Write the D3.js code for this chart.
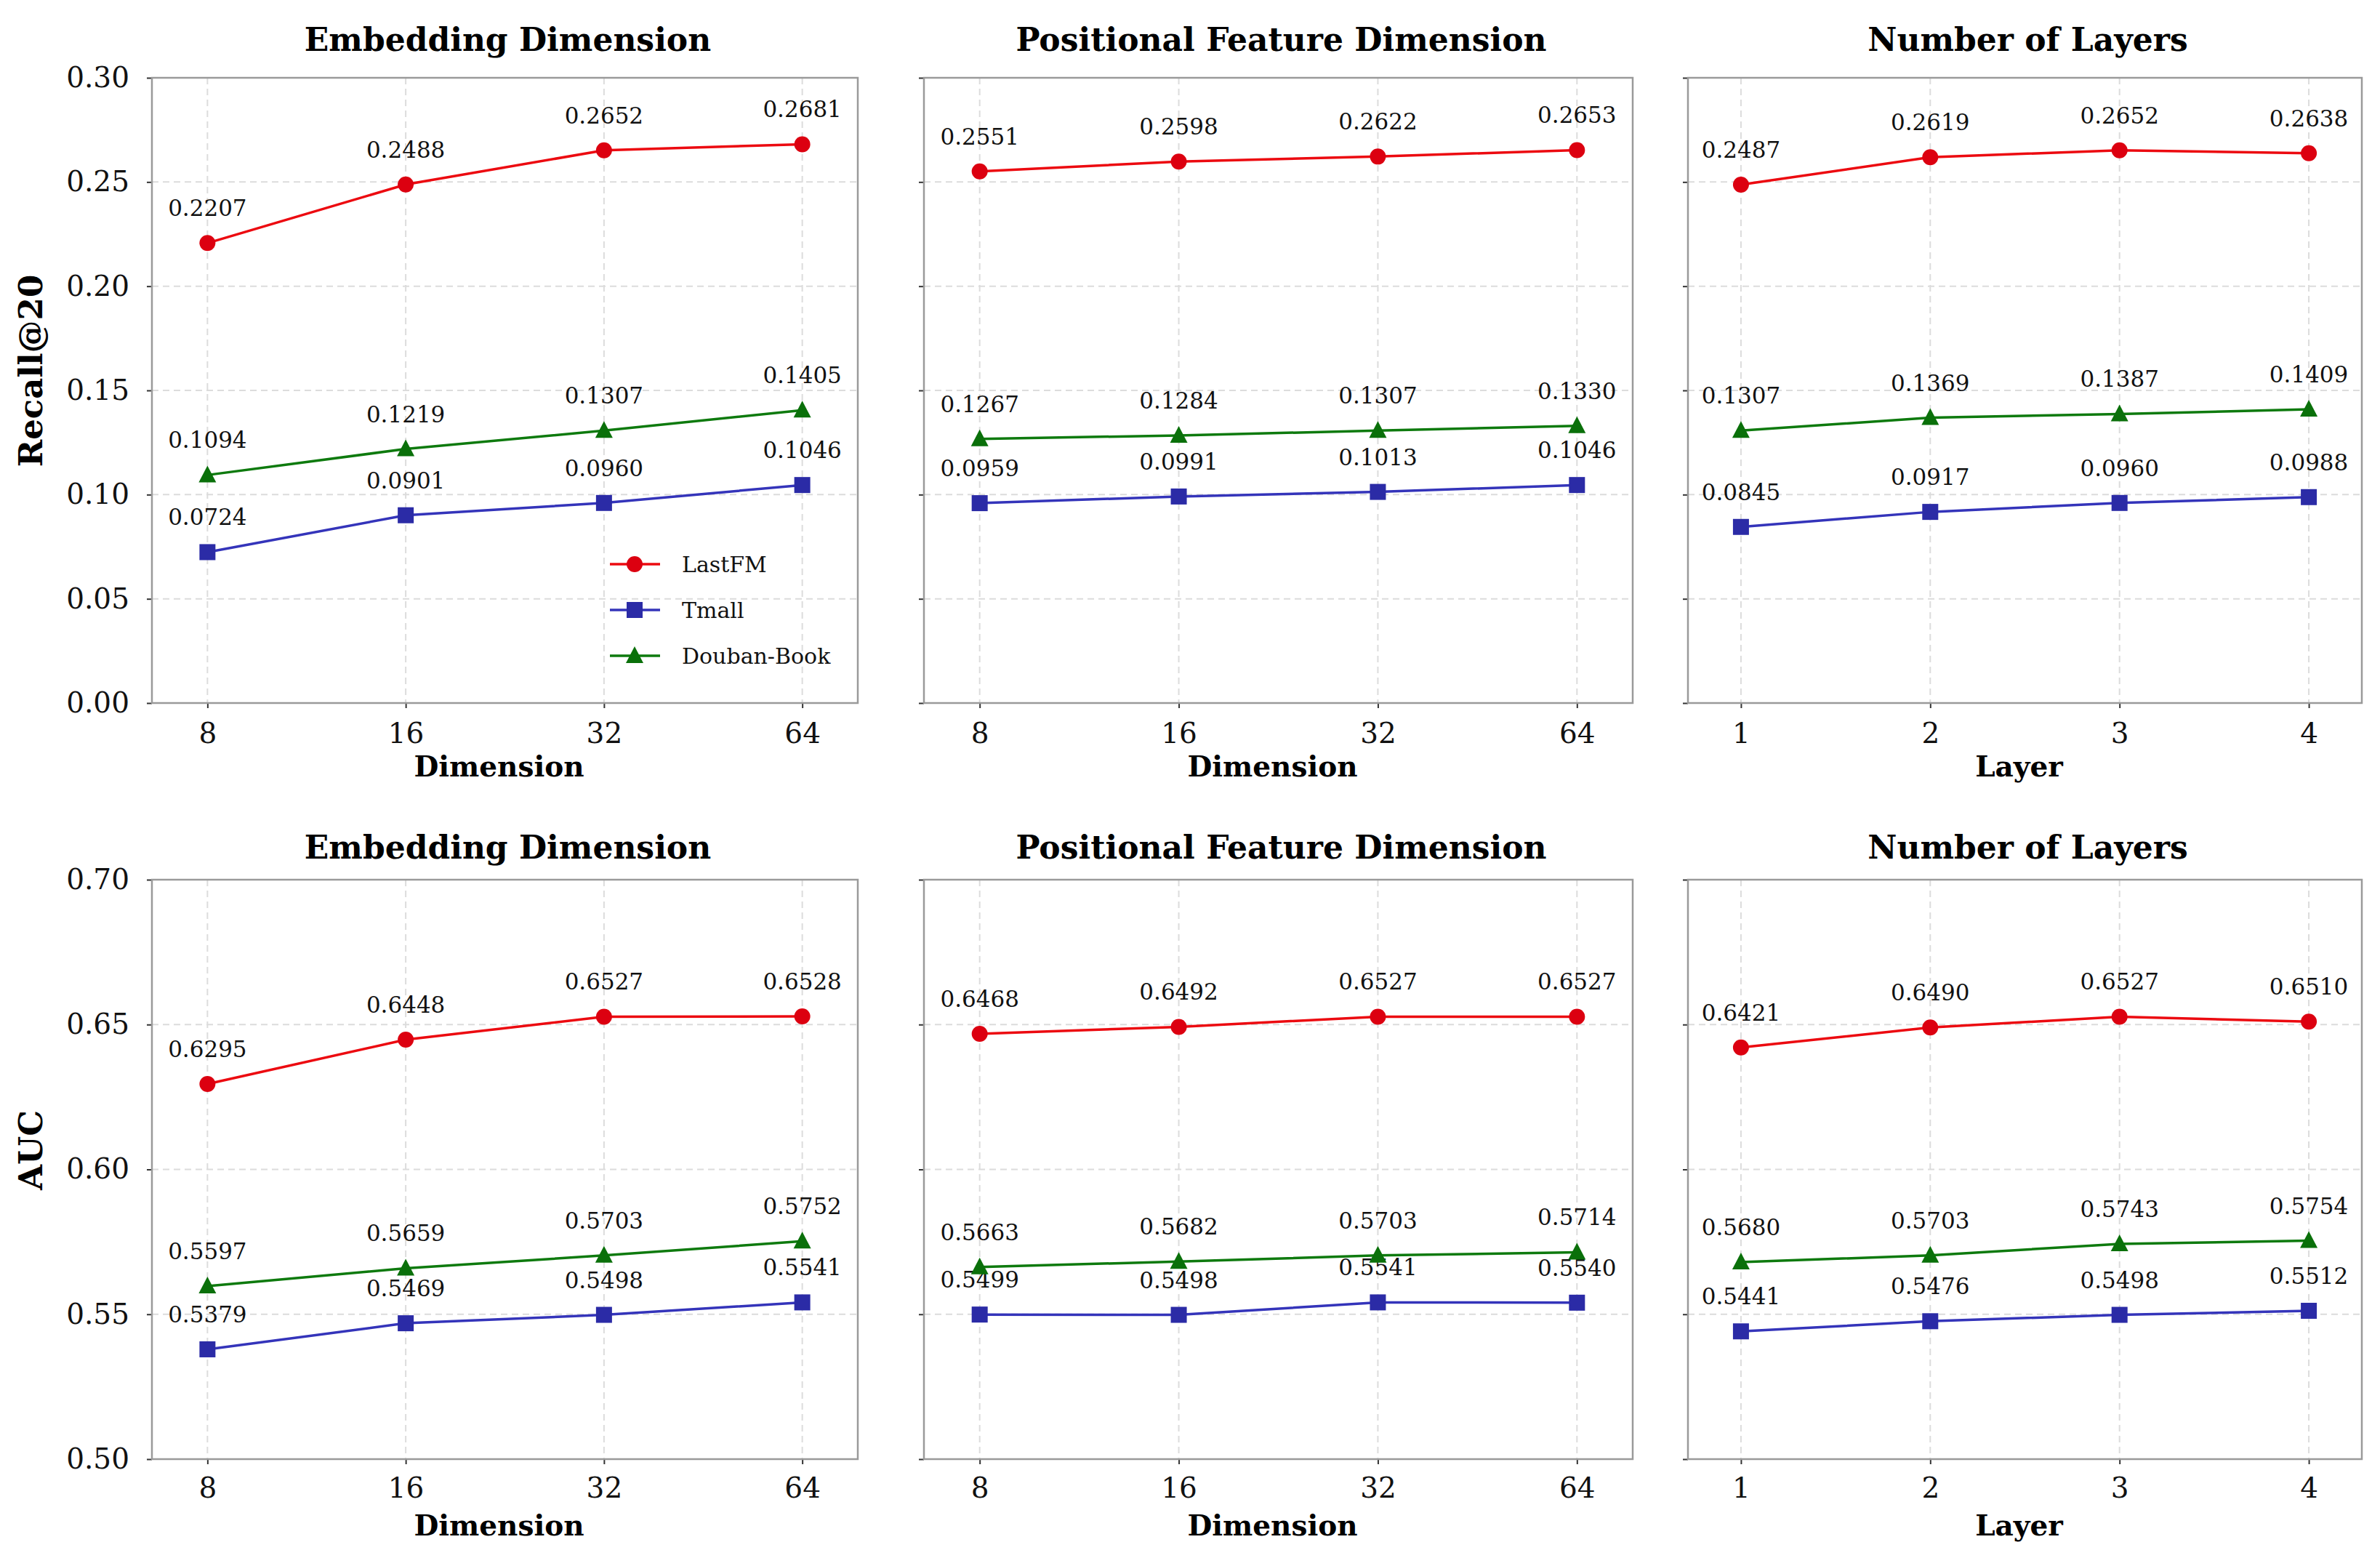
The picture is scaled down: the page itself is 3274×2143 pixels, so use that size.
<!DOCTYPE html>
<html>
<head>
<meta charset="utf-8">
<script src="https://cdn.jsdelivr.net/npm/d3@7"></script>
<style>
  body { margin: 0; background: #fff; }
  svg { display: block; font-family: "DejaVu Serif", serif; }
</style>
</head>
<body>
<svg id="chart" width="3274" height="2143"></svg>
<script>
// x categories
const dims = ["8", "16", "32", "64"];
const layers = ["1", "2", "3", "4"];

// Recall@20
const recallEmbLastFM = [0.2207, 0.2488, 0.2652, 0.2681];
const recallEmbTmall = [0.0724, 0.0901, 0.0960, 0.1046];
const recallEmbDouban = [0.1094, 0.1219, 0.1307, 0.1405];
const recallPosLastFM = [0.2551, 0.2598, 0.2622, 0.2653];
const recallPosTmall = [0.0959, 0.0991, 0.1013, 0.1046];
const recallPosDouban = [0.1267, 0.1284, 0.1307, 0.1330];
const recallLayLastFM = [0.2487, 0.2619, 0.2652, 0.2638];
const recallLayTmall = [0.0845, 0.0917, 0.0960, 0.0988];
const recallLayDouban = [0.1307, 0.1369, 0.1387, 0.1409];

// AUC
const aucEmbLastFM = [0.6295, 0.6448, 0.6527, 0.6528];
const aucEmbTmall = [0.5379, 0.5469, 0.5498, 0.5541];
const aucEmbDouban = [0.5597, 0.5659, 0.5703, 0.5752];
const aucPosLastFM = [0.6468, 0.6492, 0.6527, 0.6527];
const aucPosTmall = [0.5499, 0.5498, 0.5541, 0.5540];
const aucPosDouban = [0.5663, 0.5682, 0.5703, 0.5714];
const aucLayLastFM = [0.6421, 0.6490, 0.6527, 0.6510];
const aucLayTmall = [0.5441, 0.5476, 0.5498, 0.5512];
const aucLayDouban = [0.5680, 0.5703, 0.5743, 0.5754];

const recallTicks = [0, 0.05, 0.10, 0.15, 0.20, 0.25, 0.30];
const aucTicks = [0.50, 0.55, 0.60, 0.65, 0.70];

const seriesNames = ["LastFM", "Tmall", "Douban-Book"];
const titles = ["Embedding Dimension", "Positional Feature Dimension", "Number of Layers"];
const xLabels = ["Dimension", "Dimension", "Layer"];

const lineColors = ["#ec0a10", "#3434ba", "#0e7a0e"];
const markColors = ["#dc0010", "#2b2ba6", "#0a700a"];
const shapes = ["circle", "square", "triangle"];

const svg = d3.select("#chart");

const cols = [[209, 1180], [1271, 2246], [2322, 3249]];
const rows = [
  { top: 107, bottom: 967, ticks: recallTicks, domain: [0, 0.30], label: "Recall@20", labelY: 510,
    titleY: 70, tickY: 1022, xLabelY: 1068,
    data: [[recallEmbLastFM, recallEmbTmall, recallEmbDouban],
           [recallPosLastFM, recallPosTmall, recallPosDouban],
           [recallLayLastFM, recallLayTmall, recallLayDouban]] },
  { top: 1210, bottom: 2007, ticks: aucTicks, domain: [0.50, 0.70], label: "AUC", labelY: 1582,
    titleY: 1181, tickY: 2060, xLabelY: 2112,
    data: [[aucEmbLastFM, aucEmbTmall, aucEmbDouban],
           [aucPosLastFM, aucPosTmall, aucPosDouban],
           [aucLayLastFM, aucLayTmall, aucLayDouban]] }
];

function drawMarker(g, shape, x, y, color) {
  if (shape === "circle") {
    g.append("circle").attr("cx", x).attr("cy", y).attr("r", 11).attr("fill", color);
  } else if (shape === "square") {
    g.append("rect").attr("x", x - 11).attr("y", y - 11).attr("width", 22).attr("height", 22).attr("fill", color);
  } else {
    g.append("path").attr("d", `M${x},${y - 13}L${x + 12},${y + 10}L${x - 12},${y + 10}Z`).attr("fill", color);
  }
}

rows.forEach((row, ri) => {
  cols.forEach((col, ci) => {
    const cats = ci === 2 ? layers : dims;
    const x = d3.scalePoint().domain(cats).range(col).padding(0.28);
    const y = d3.scaleLinear().domain(row.domain).range([row.bottom, row.top]);
    const g = svg.append("g");

    // grid
    g.selectAll(".gy").data(row.ticks).join("line")
      .attr("x1", col[0]).attr("x2", col[1])
      .attr("y1", d => y(d)).attr("y2", d => y(d))
      .attr("stroke", "#dcdcdc").attr("stroke-width", 2).attr("stroke-dasharray", "9,6");
    g.selectAll(".gx").data(cats).join("line")
      .attr("x1", d => x(d)).attr("x2", d => x(d))
      .attr("y1", row.top).attr("y2", row.bottom)
      .attr("stroke", "#dcdcdc").attr("stroke-width", 2).attr("stroke-dasharray", "9,6");

    // axes
    const yAxis = d3.axisLeft(y).tickValues(row.ticks).tickSize(7).tickPadding(24)
      .tickFormat(ci === 0 ? d3.format(".2f") : () => "");
    const ya = g.append("g").attr("transform", `translate(${col[0]},0)`).call(yAxis);
    const xAxis = d3.axisBottom(x).tickSize(7).tickPadding(12);
    const xa = g.append("g").attr("transform", `translate(0,${row.bottom})`).call(xAxis);
    [ya, xa].forEach(a => {
      a.select(".domain").remove();
      a.selectAll(".tick line").attr("stroke", "#333").attr("stroke-width", 2);
      a.selectAll(".tick text").attr("font-family", "DejaVu Serif").attr("font-size", 39).attr("fill", "#111");
    });
    xa.selectAll(".tick text").attr("dy", null).attr("y", row.tickY - row.bottom);

    // frame
    g.append("rect").attr("x", col[0]).attr("y", row.top)
      .attr("width", col[1] - col[0]).attr("height", row.bottom - row.top)
      .attr("fill", "none").attr("stroke", "#9a9a9a").attr("stroke-width", 2.5);

    // series
    row.data[ci].forEach((vals, si) => {
      const pts = vals.map((v, i) => [x(cats[i]), y(v)]);
      g.append("path").attr("d", d3.line()(pts))
        .attr("fill", "none").attr("stroke", lineColors[si]).attr("stroke-width", 3.5);
      pts.forEach(([px, py], i) => {
        drawMarker(g, shapes[si], px, py, markColors[si]);
        g.append("text").attr("x", px).attr("y", py - 37)
          .attr("text-anchor", "middle").attr("font-size", 31).attr("fill", "#111")
          .text(vals[i].toFixed(4));
      });
    });

    // titles
    g.append("text").attr("x", (col[0] + col[1]) / 2 + 4).attr("y", row.titleY)
      .attr("text-anchor", "middle").attr("font-size", 44).attr("font-weight", "bold")
      .text(titles[ci]);
    g.append("text").attr("x", (col[0] + col[1]) / 2 - 8).attr("y", row.xLabelY)
      .attr("text-anchor", "middle").attr("font-size", 39).attr("font-weight", "bold")
      .text(xLabels[ci]);
  });

  svg.append("text")
    .attr("transform", `translate(58,${row.labelY}) rotate(-90)`)
    .attr("text-anchor", "middle").attr("font-size", 45).attr("font-weight", "bold")
    .text(row.label);
});

// legend in the first panel
const legendY = [776, 839, 902];
const lg = svg.append("g");
seriesNames.forEach((name, i) => {
  lg.append("line").attr("x1", 839).attr("x2", 908).attr("y1", legendY[i]).attr("y2", legendY[i])
    .attr("stroke", lineColors[i]).attr("stroke-width", 3.5);
  drawMarker(lg, shapes[i], 873, legendY[i], markColors[i]);
  lg.append("text").attr("x", 938).attr("y", legendY[i]).attr("dy", "0.35em")
    .attr("font-size", 30).attr("fill", "#111").text(name);
});
</script>
</body>
</html>
